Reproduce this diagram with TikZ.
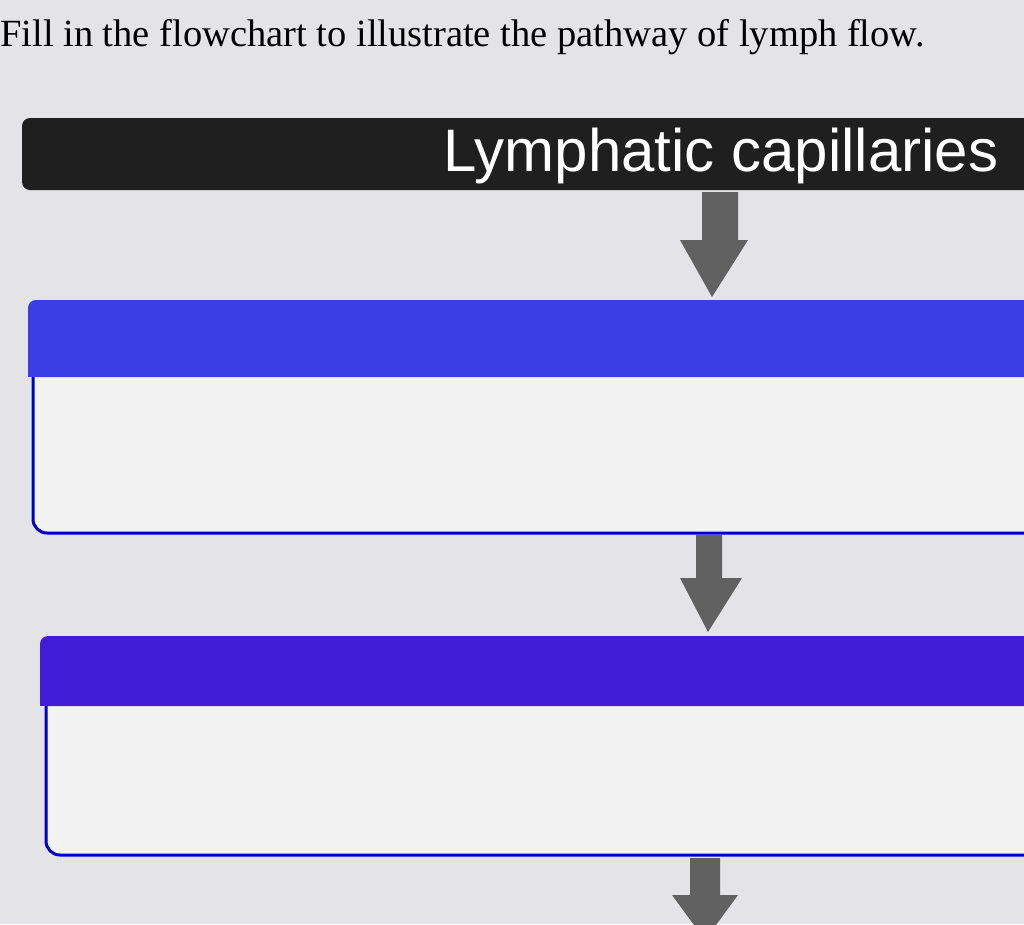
\documentclass[tikz,border=0pt]{standalone}
\usepackage{fontspec}
\setmainfont{Liberation Serif}
\newfontfamily\sansf{Liberation Sans}
\begin{document}
\begin{tikzpicture}[x=1pt,y=-1pt,
  arr/.style={fill=black!62,draw=none},
  bodybox/.style={draw=blue!75!black,line width=3pt,fill=black!5}]
\definecolor{bgc}{RGB}{228,228,230}
\definecolor{blueA}{RGB}{58,62,228}
\definecolor{blueB}{RGB}{64,28,214}
\fill[bgc] (0,0) rectangle (1024,924);
\useasboundingbox (0,0) rectangle (1024,924);
\node[anchor=base west,inner sep=0,font=\fontsize{38.5}{42}\selectfont] (title) at (0,46) {Fill in the flowchart to illustrate the pathway of lymph flow.};
% black bar
\fill[black!88,rounded corners=8pt] (22,118) -- (1040,118) -- (1040,190) -- (22,190) -- cycle;
\node[text=white,font=\sansf\fontsize{60}{64}\selectfont,anchor=center] (lc) at (721,156) {Lymphatic capillaries};
% arrow 1
\fill[arr] (702,192) -- (738,192) -- (738,240) -- (748,240) -- (712,297) -- (680,240) -- (702,240) -- cycle;
% box 1
\draw[bodybox,rounded corners=14pt] (1040,360) -- (33,360) -- (33,533) -- (1040,533);
\fill[blueA,rounded corners=8pt] (28,300) -- (1040,300) -- (1040,377) -- (28,377) -- cycle;
\fill[blueA] (28,340) rectangle (1040,377);
% arrow 2
\fill[arr] (696,535) -- (722,535) -- (722,578) -- (742,578) -- (708,632) -- (680,578) -- (696,578) -- cycle;
% box 2
\draw[bodybox,rounded corners=14pt] (1040,690) -- (46,690) -- (46,855) -- (1040,855);
\fill[blueB,rounded corners=8pt] (40,636) -- (1040,636) -- (1040,706) -- (40,706) -- cycle;
\fill[blueB] (40,670) rectangle (1040,706);
% arrow 3
\fill[arr] (690,858) -- (720,858) -- (720,895) -- (738,895) -- (705,940) -- (672,895) -- (690,895) -- cycle;
\end{tikzpicture}
\end{document}
